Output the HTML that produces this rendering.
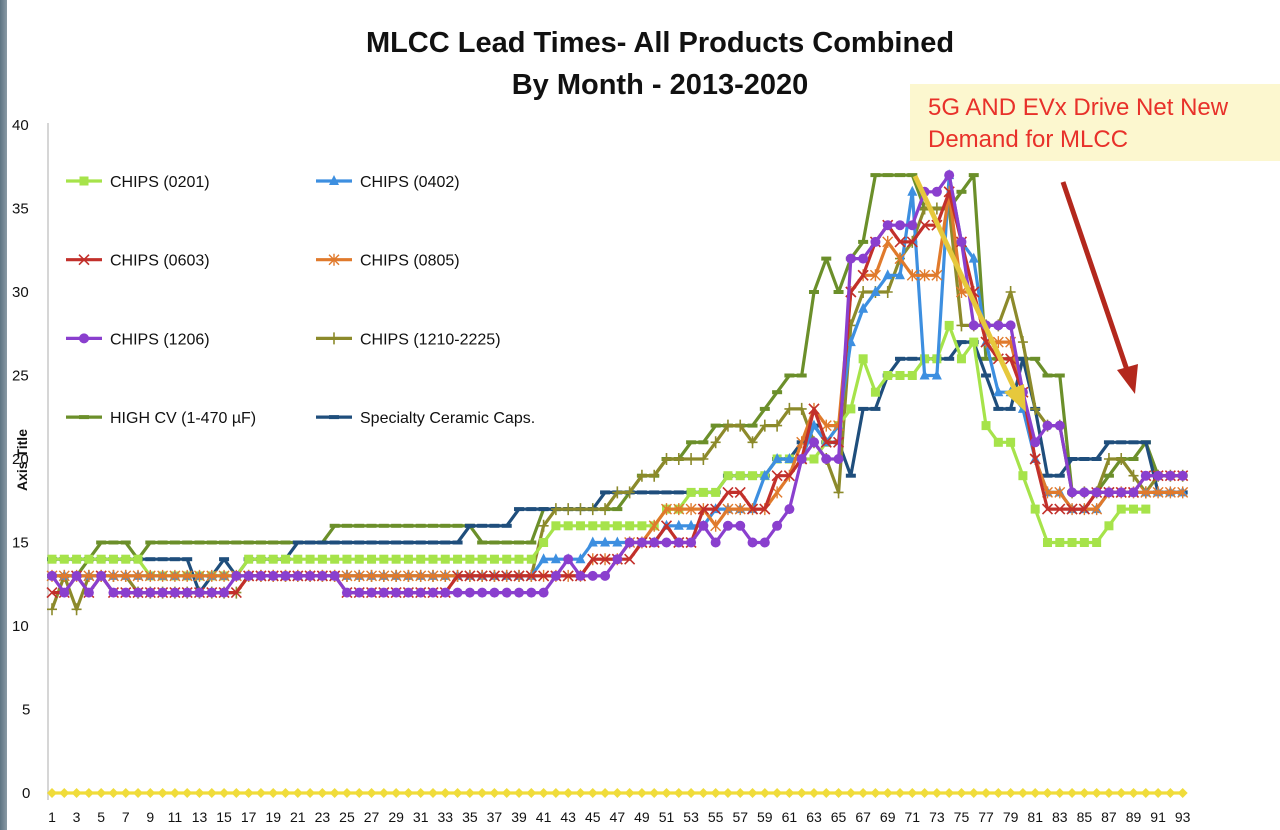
<!DOCTYPE html>
<html><head><meta charset="utf-8"><style>
html,body{margin:0;padding:0;background:#fff;}
body{width:1280px;height:830px;overflow:hidden;position:relative;font-family:"Liberation Sans",sans-serif;}
</style></head><body>
<svg id="c" width="1280" height="830" xmlns="http://www.w3.org/2000/svg" style="position:absolute;left:0;top:0">
<defs><linearGradient id="lg" x1="0" x2="1"><stop offset="0" stop-color="#5d7382"/><stop offset="1" stop-color="#8a9aa5"/></linearGradient></defs>
<rect x="0" y="0" width="7" height="830" fill="url(#lg)"/>
<text x="660" y="52" text-anchor="middle" font-size="29" font-weight="bold" fill="#111">MLCC Lead Times- All Products Combined</text>
<text x="660" y="94" text-anchor="middle" font-size="29" font-weight="bold" fill="#111">By Month - 2013-2020</text>
<line x1="48" y1="123" x2="48" y2="800" stroke="#d6d6d6" stroke-width="2"/>
<g id="yl" font-size="15" fill="#111"></g>
<g id="xl" font-size="14" fill="#111"></g>
<text transform="translate(27,460) rotate(-90)" text-anchor="middle" font-size="14" font-weight="bold" fill="#111">Axis Title</text>
<g id="series"></g>
<g id="legend" font-size="16" fill="#111"></g>
<rect x="910" y="84" width="370" height="77" fill="#fcf7cf"/>
<text x="928" y="115" font-size="24" fill="#e8312a">5G AND EVx Drive Net New</text>
<text x="928" y="147" font-size="24" fill="#e8312a">Demand for MLCC</text>
<line x1="915" y1="176" x2="1015" y2="390" stroke="#e6c83c" stroke-width="5"/>
<polygon points="1026,412 1004,392 1024,384" fill="#e6c83c"/>
<line x1="1063" y1="182" x2="1127" y2="370" stroke="#b3281d" stroke-width="5"/>
<polygon points="1135,394 1117,370 1138,364" fill="#b3281d"/>
</svg>
<script>
var X=function(i){return 52+(i-1)*12.29;}, Y=function(v){return 793-v*16.7;};
var yl=document.getElementById('yl');
for(var v=0;v<=40;v+=5){var t=document.createElementNS('http://www.w3.org/2000/svg','text');t.setAttribute('x',v<10?22:12);t.setAttribute('y',Y(v)+5);t.textContent=v;yl.appendChild(t);}
var xl=document.getElementById('xl');
for(var i=1;i<=93;i+=2){var t=document.createElementNS('http://www.w3.org/2000/svg','text');t.setAttribute('x',X(i));t.setAttribute('y',822);t.setAttribute('text-anchor','middle');t.textContent=i;xl.appendChild(t);}
function fill(bp,last){var a=[],cur=null;for(var i=1;i<=(last||93);i++){if(bp[i]!==undefined)cur=bp[i];a.push(cur);}return a;}
var S=[
{n:'HIGH CV (1-470 µF)',c:'#6b8f2a',m:'dash',d:fill({1:13,4:14,5:15,8:14,9:15,24:16,36:15,41:17,48:18,49:19,51:20,53:21,55:22,58:22,59:23,60:24,61:25,63:30,64:32,65:30,66:32,67:33,68:37,72:35,75:36,76:37,77:26,82:25,84:18,87:19,88:20,89:20,90:21,91:19})},
{n:'Specialty Ceramic Caps.',c:'#1f4e7c',m:'dash',d:fill({1:14,13:12,14:13,15:14,16:13,17:14,21:15,35:16,39:17,46:18,56:19,60:20,62:21,63:22,64:21,66:19,67:23,69:25,70:26,75:27,77:25,78:23,80:26,81:23,82:19,84:20,87:21,91:18})},
{n:'CHIPS (1210-2225)',c:'#8c8a2b',m:'plus',d:fill({1:11,2:13,3:11,4:13,8:12,17:13,41:16,42:17,47:18,49:19,50:19,51:20,55:21,56:22,58:21,59:22,61:23,63:21,64:20,65:18,66:28,67:30,70:32,71:33,72:35,75:28,79:30,80:27,81:23,82:22,84:18,87:20,89:19,90:18,91:19})},
{n:'CHIPS (0201)',c:'#a6e34a',m:'sq',d:fill({1:14,9:13,17:14,41:15,42:16,51:17,53:18,56:19,60:20,64:21,65:22,66:23,67:26,68:24,69:25,72:26,74:28,75:26,76:27,77:22,78:21,80:19,81:17,82:15,87:16,88:17},90)},
{n:'CHIPS (0402)',c:'#3d8fe0',m:'tri',d:fill({1:13,41:14,45:15,51:16,55:17,59:19,60:20,62:20,63:22,64:21,65:22,66:27,67:29,68:30,69:31,71:36,72:25,74:37,75:33,76:32,77:27,78:24,80:23,81:20,82:18,84:17,87:18})},
{n:'CHIPS (0805)',c:'#e07a2c',m:'ast',d:fill({1:13,45:14,48:15,50:16,51:17,54:17,55:16,56:17,60:18,61:19,62:21,63:23,64:22,66:30,67:31,69:33,70:32,71:31,74:36,75:30,77:27,80:24,81:20,82:18,84:17,87:18})},
{n:'CHIPS (0603)',c:'#c2302b',m:'x',d:fill({1:12,3:13,4:12,5:13,6:12,17:13,25:12,34:13,45:14,49:15,51:16,52:15,54:17,56:18,58:17,60:19,62:20,63:23,64:21,66:30,67:31,68:33,69:34,70:33,72:34,74:36,75:33,76:30,77:27,78:26,80:24,81:20,82:17,86:18,90:19})},
{n:'CHIPS (1206)',c:'#8a3fce',m:'dot',d:fill({1:13,2:12,3:13,4:12,5:13,6:12,16:13,25:12,42:13,43:14,44:13,47:14,48:15,54:16,55:15,56:16,58:15,60:16,61:17,62:20,63:21,64:20,66:32,68:33,69:34,72:36,74:37,75:33,76:28,80:24,81:21,82:22,84:18,90:19})},
{n:'yel',c:'#f0dc3a',m:'dia',d:fill({1:0})}
];
var g=document.getElementById('series'),NS='http://www.w3.org/2000/svg';
function el(t,a){var e=document.createElementNS(NS,t);for(var k in a)e.setAttribute(k,a[k]);return e;}
function marker(m,x,y,c,p){
 if(m=='sq')p.appendChild(el('rect',{x:x-4.5,y:y-4.5,width:9,height:9,fill:c}));
 else if(m=='tri')p.appendChild(el('polygon',{points:(x)+','+(y-6)+' '+(x-5)+','+(y+4)+' '+(x+5)+','+(y+4),fill:c}));
 else if(m=='dot')p.appendChild(el('circle',{cx:x,cy:y,r:5,fill:c}));
 else if(m=='dia')p.appendChild(el('polygon',{points:x+','+(y-5)+' '+(x+5)+','+y+' '+x+','+(y+5)+' '+(x-5)+','+y,fill:c}));
 else if(m=='x'){p.appendChild(el('path',{d:'M'+(x-5)+' '+(y-5)+'L'+(x+5)+' '+(y+5)+'M'+(x+5)+' '+(y-5)+'L'+(x-5)+' '+(y+5),stroke:c,'stroke-width':1.6}));}
 else if(m=='ast'){p.appendChild(el('path',{d:'M'+(x-5)+' '+(y-5)+'L'+(x+5)+' '+(y+5)+'M'+(x+5)+' '+(y-5)+'L'+(x-5)+' '+(y+5)+'M'+x+' '+(y-6)+'L'+x+' '+(y+6),stroke:c,'stroke-width':1.4}));}
 else if(m=='plus'){p.appendChild(el('path',{d:'M'+(x-5)+' '+y+'L'+(x+5)+' '+y+'M'+x+' '+(y-6)+'L'+x+' '+(y+6),stroke:c,'stroke-width':1.6}));}
 else if(m=='dash'){p.appendChild(el('rect',{x:x-5,y:y-2,width:10,height:4,fill:c}));}
}
S.forEach(function(s){var pts=s.d.map(function(v,i){return X(i+1).toFixed(1)+','+Y(v).toFixed(1);}).join(' ');
 g.appendChild(el('polyline',{points:pts,fill:'none',stroke:s.c,'stroke-width':3.2,'stroke-linejoin':'round'}));
 s.d.forEach(function(v,i){marker(s.m,X(i+1),Y(v),s.c,g);});});
var L=[['CHIPS (0201)','#a6e34a','sq',0,0],['CHIPS (0402)','#3d8fe0','tri',1,0],['CHIPS (0603)','#c2302b','x',0,1],['CHIPS (0805)','#e07a2c','ast',1,1],['CHIPS (1206)','#8a3fce','dot',0,2],['CHIPS (1210-2225)','#8c8a2b','plus',1,2],['HIGH CV (1-470 µF)','#6b8f2a','dash',0,3],['Specialty Ceramic Caps.','#1f4e7c','dash',1,3]];
var lg=document.getElementById('legend');
L.forEach(function(l){var x0=l[3]?316:66,y=181+l[4]*78.7;
 lg.appendChild(el('line',{x1:x0,y1:y,x2:x0+36,y2:y,stroke:l[1],'stroke-width':3.2}));
 marker(l[2],x0+18,y,l[1],lg);
 var t=el('text',{x:x0+44,y:y+6});t.textContent=l[0];lg.appendChild(t);});
</script>
</body></html>
